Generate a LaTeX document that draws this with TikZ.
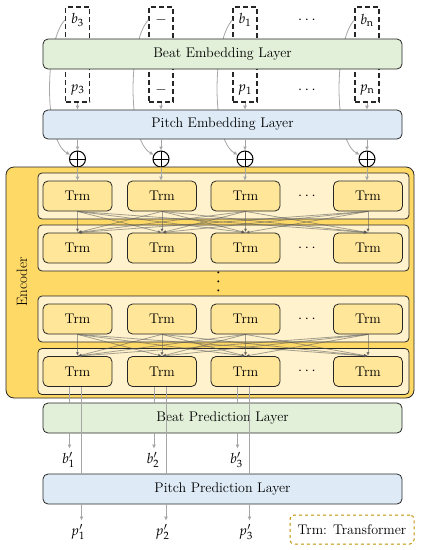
\documentclass[tikz,border=0pt]{standalone}
\usepackage{mathpazo}
\usetikzlibrary{positioning,arrows.meta,calc}

\definecolor{beatgreen}{HTML}{E2F0D9}
\definecolor{pitchblue}{HTML}{DEEBF7}
\definecolor{encgold}{HTML}{FFD966}
\definecolor{blkcream}{HTML}{FFF2CC}
\definecolor{trmyellow}{HTML}{FFE699}
\definecolor{legendbrown}{HTML}{BF9000}
\definecolor{arrgray}{HTML}{A6A6A6}

\begin{document}
\begin{tikzpicture}[x=1pt, y=-1pt, font=\fontsize{14}{16}\selectfont,
    layer/.style={rectangle, rounded corners=5pt, draw=black!85, line width=0.8pt, minimum width=359pt, minimum height=30pt, inner sep=0pt},
    blk/.style={rectangle, rounded corners=4pt, draw=black!85, line width=0.8pt, fill=blkcream, minimum width=371pt, minimum height=46pt, inner sep=0pt},
    trm/.style={rectangle, rounded corners=5pt, draw=black!85, line width=0.8pt, fill=trmyellow, minimum width=69pt, minimum height=30pt, inner sep=0pt},
    token/.style={rectangle, draw=black!85, dash pattern=on 5pt off 3pt, line width=1.1pt, minimum width=24pt, minimum height=95pt, inner sep=0pt},
    addop/.style={circle, draw=black, line width=1pt, minimum size=16pt, inner sep=0pt, fill=white,
        path picture={\draw[line width=1pt] (path picture bounding box.north) -- (path picture bounding box.south)
            (path picture bounding box.west) -- (path picture bounding box.east);}},
    arr/.style={-{Latex[length=4pt,width=4pt]}, draw=arrgray, line width=0.8pt},
    link/.style={-{Latex[length=4pt,width=3.5pt]}, draw=black!65, draw opacity=0.55, line width=0.8pt}]
    \useasboundingbox (0,0) rectangle (421,550);

    % input tokens
    \foreach \c/\x/\bt/\pt in {1/77.5/b_3/p_3, 2/161/-/-, 3/245/b_1/p_1, 4/367/b_{\mathrm{n}}/p_{\mathrm{n}}} {
        \node[token] (tok\c) at (\x,54.5) {};
        \node (bl\c) at (\x,20) {$\bt$};
        \node (pl\c) at (\x,90) {$\pt$};
        \node[addop] (add\c) at (\x,159) {};
    }
    \node at (307,20) {$\cdots$};
    \node at (307,90) {$\cdots$};

    % beat skip paths
    \foreach \c in {1,...,4}
        \draw[arr] (tok\c.west |- bl\c) .. controls +(-20,20) and +(-27,-15) .. (add\c.150);

    \node[layer, fill=beatgreen] (beatemb) at (222.5,54) {Beat Embedding Layer};
    \node[layer, fill=pitchblue, minimum height=29pt] (pitchemb) at (222.5,124.5) {Pitch Embedding Layer};

    % encoder
    \node[rectangle, rounded corners=8pt, draw=black!85, line width=0.8pt, fill=encgold, minimum width=408pt, minimum height=231pt] (encoder) at (210,282.5) {};
    \node[rotate=90, font=\fontsize{15}{17}\selectfont] (enclabel) at (22,282) {Encoder};

    \foreach \r/\y in {1/196, 2/248, 3/319, 4/371.5} {
        \node[blk] (blk\r) at (223.5,\y) {};
        \foreach \c/\x in {1/77.5, 2/162, 3/245.5, 4/368}
            \node[trm] (t\r-\c) at (\x,\y) {Trm};
        \node at (307,\y) {$\cdots$};
    }
    \node[rotate=90, font=\fontsize{18}{20}\selectfont] (vdots) at (219,282) {$\cdots$};

    \foreach \c in {1,...,4} {
        \draw[arr] (tok\c.south) -- (tok\c.south |- pitchemb.north);
        \draw[arr] (tok\c.south |- pitchemb.south) -- (add\c.north);
        \draw[arr] (add\c.south) -- (add\c.south |- t1-1.north);
    }

    % full connections between transformer rows
    \foreach \i in {1,...,4}
        \foreach \j in {1,...,4} {
            \draw[link] (t1-\i.south) -- (t2-\j.north);
            \draw[link] (t3-\i.south) -- (t4-\j.north);
        }

    % prediction layers
    \node[layer, fill=beatgreen] (beatpred) at (222.5,418) {Beat Prediction Layer};
    \node[layer, fill=pitchblue] (pitchpred) at (222.5,489) {Pitch Prediction Layer};

    \foreach \c/\x/\n in {1/77.5/1, 2/162/2, 3/245.5/3} {
        \node (bp\c) at (\x-9,460) {$b'_{\n}$};
        \node (pp\c) at (\x+0.5,532) {$p'_{\n}$};
        \draw[arr, -] ([xshift=-8pt]t4-\c.south) -- ([xshift=-8pt]t4-\c.south |- beatpred.north);
        \draw[arr] ([xshift=-8pt]t4-\c.south |- beatpred.south) -- ([xshift=-8pt]t4-\c.south |- bp\c.north);
        \draw[arr, -] ([xshift=4pt]t4-\c.south) -- ([xshift=4pt]t4-\c.south |- pitchpred.north);
        \draw[arr] ([xshift=4pt]t4-\c.south |- pitchpred.south) -- ([xshift=4pt]t4-\c.south |- pp\c.north);
    }

    % legend
    \node[rectangle, rounded corners=4pt, draw=legendbrown, dashed, line width=1pt, minimum width=124pt, minimum height=29pt] (legend) at (352,529.5) {Trm: Transformer};
\end{tikzpicture}
\end{document}
